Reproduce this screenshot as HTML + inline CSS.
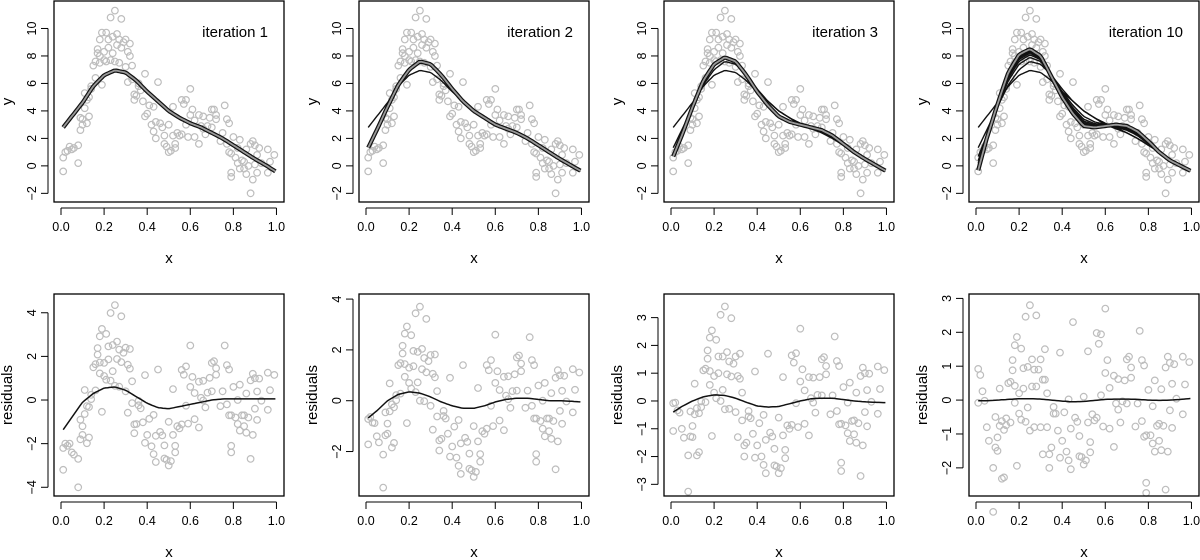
<!DOCTYPE html>
<html><head><meta charset="utf-8"><style>
body{margin:0;background:#fff;}
svg{display:block;font-family:"Liberation Sans",Arial,sans-serif;}
</style></head><body>
<svg id="c" width="1200" height="560" viewBox="0 0 1200 560"></svg>
<script>
const dataX=[0.01,0.01,0.02,0.04,0.05,0.03,0.06,0.08,0.08,0.09,0.09,0.10,0.10,0.11,0.11,0.12,0.12,0.13,0.13,0.14,0.15,0.16,0.16,0.17,0.17,0.18,0.18,0.19,0.19,0.20,0.20,0.21,0.21,0.22,0.22,0.23,0.23,0.24,0.25,0.25,0.26,0.26,0.27,0.27,0.28,0.28,0.29,0.30,0.30,0.31,0.31,0.32,0.32,0.33,0.33,0.34,0.34,0.35,0.36,0.37,0.38,0.39,0.39,0.40,0.41,0.42,0.43,0.43,0.44,0.45,0.46,0.47,0.48,0.48,0.49,0.50,0.50,0.51,0.52,0.52,0.53,0.54,0.55,0.56,0.56,0.57,0.58,0.59,0.60,0.60,0.61,0.62,0.62,0.64,0.64,0.65,0.66,0.67,0.68,0.69,0.70,0.71,0.72,0.72,0.75,0.76,0.77,0.77,0.78,0.78,0.79,0.79,0.79,0.80,0.81,0.82,0.82,0.83,0.83,0.84,0.85,0.85,0.86,0.86,0.87,0.88,0.88,0.89,0.89,0.90,0.90,0.91,0.91,0.92,0.93,0.96,0.96,0.99,0.97,0.74,0.58,0.44,0.36,0.24,0.18,0.14,0.66,0.70,0.53];
const dataY=[0.6,-0.4,1.0,1.4,1.2,1.1,1.3,1.5,0.2,2.6,3.5,3.0,3.4,5.3,4.2,4.8,3.1,3.6,5.0,5.8,7.3,7.6,6.4,8.5,8.2,9.2,7.5,9.7,5.9,7.7,8.3,9.7,7.6,9.2,8.6,10.8,7.7,9.4,11.3,7.6,9.6,8.8,9.2,7.5,10.7,8.6,9.0,9.2,7.2,8.3,6.1,8.0,8.9,7.3,6.3,4.8,5.2,5.1,6.0,5.5,4.7,3.6,6.7,3.8,4.4,3.0,2.5,4.3,2.0,6.1,3.1,2.8,1.6,2.2,1.4,3.0,1.0,1.1,2.2,4.3,1.6,2.4,2.2,4.8,2.3,4.5,4.8,2.1,5.6,3.7,4.1,2.1,3.3,3.7,1.6,2.9,2.7,2.3,2.9,3.5,4.1,4.1,3.4,3.7,2.4,4.4,3.4,1.6,3.1,1.0,0.9,-0.5,-0.8,2.1,0.6,1.3,0.2,1.9,-0.2,0.4,0.3,-0.2,1.2,-0.6,0.0,-2.0,1.6,-1.0,1.8,0.1,1.5,-0.5,0.8,1.3,0.2,-0.5,1.2,0.8,0.3,1.8,3.0,3.2,5.8,8.2,8.0,5.6,3.6,2.8,1.3];
const gridX=[0,0.05,0.1,0.15,0.2,0.25,0.3,0.35,0.4,0.45,0.5,0.55,0.6,0.65,0.7,0.75,0.8,0.85,0.9,0.95,1.0];
const fitIter1=[2.6,3.6,4.6,5.8,6.6,6.95,6.8,6.2,5.4,4.7,4.0,3.5,3.1,2.8,2.4,2.0,1.5,1.0,0.5,0.05,-0.45];
const fitIter2=[1.0,2.6,4.3,5.9,7.0,7.6,7.4,6.6,5.6,4.7,4.0,3.5,3.0,2.7,2.4,2.0,1.5,1.0,0.5,0.05,-0.4];
const fitIter3=[0.3,2.2,4.3,6.2,7.4,7.9,7.6,6.6,5.4,4.4,3.6,3.2,3.0,2.8,2.6,2.2,1.6,1.0,0.5,0.05,-0.4];
const fitIter10=[-0.9,2.0,4.5,6.8,8.1,8.5,8.0,6.5,5.0,3.8,2.9,2.8,2.9,3.0,2.9,2.5,1.8,1.0,0.4,0.0,-0.4];
const midWeights=[0.3,0.5,0.65,0.78,0.88,0.95];
const residSmooth1=[-1.5,-0.8,-0.1,0.3,0.55,0.6,0.45,0.15,-0.15,-0.35,-0.4,-0.3,-0.2,-0.1,0,0.05,0.05,0.05,0.05,0.05,0.05];
const residSmooth2=[-0.75,-0.4,0,0.25,0.35,0.3,0.15,-0.05,-0.2,-0.3,-0.3,-0.2,-0.05,0.05,0.1,0.1,0.05,0,0,-0.02,-0.05];
const residSmooth3=[-0.45,-0.2,0,0.15,0.22,0.2,0.1,-0.05,-0.18,-0.22,-0.2,-0.1,0,0.08,0.1,0.1,0.05,0,-0.03,-0.05,-0.06];
const residSmooth4=[-0.02,-0.02,0,0.02,0.04,0.04,0.03,0,-0.03,-0.05,-0.04,-0.01,0.02,0.03,0.03,0.02,0,-0.01,0,0.02,0.05];
const xTicks=[0,0.2,0.4,0.6,0.8,1.0];
const xTickLabels=["0.0","0.2","0.4","0.6","0.8","1.0"];
const yTicksTop=[-2,0,2,4,6,8,10];
const yTicksBottom=[[-4,-2,0,2,4],[-2,0,2,4],[-3,-2,-1,0,1,2,3],[-2,-1,0,1,2,3]];
const iterLabels=["iteration 1","iteration 2","iteration 3","iteration 10"];

const NS="http://www.w3.org/2000/svg";
const svg=document.getElementById('c');
function mk(tag,attrs,parent,text){const e=document.createElementNS(NS,tag);for(const k in attrs)e.setAttribute(k,attrs[k]);if(text!==undefined)e.textContent=text;(parent||svg).appendChild(e);return e;}
function interp(arr,x){if(x<=0)return arr[0];if(x>=1)return arr[arr.length-1];const i=Math.floor(x/0.05);const t=(x-gridX[i])/0.05;return arr[i]+(arr[Math.min(i+1,arr.length-1)]-arr[i])*t;}

const lefts=[54,359,664,969], W=230;
const topBox=[1,202], botBox=[294,496];
const xDom=[-0.0325,1.035];
const topDom=[-2.63,12.0];
const botDoms=[[-4.4,4.86],[-3.75,4.2],[-3.42,3.85],[-2.83,3.13]];

// iterations curves
const midCurves=midWeights.map(w=>fitIter3.map((v,i)=>v+(fitIter10[i]-v)*w));
const panelCurves=[[fitIter1],[fitIter1,fitIter2],[fitIter1,fitIter2,fitIter3],[fitIter1,fitIter2,fitIter3,...midCurves,fitIter10]];
const residFits=[fitIter1,fitIter2,fitIter3,fitIter10];
const residSmooths=[residSmooth1,residSmooth2,residSmooth3,residSmooth4];

function panel(p,row){
  const L=lefts[p], box=row===0?topBox:botBox, dom=row===0?topDom:botDoms[p];
  const sx=x=>L+(x-xDom[0])/(xDom[1]-xDom[0])*W;
  const sy=y=>box[1]-(y-dom[0])/(dom[1]-dom[0])*(box[1]-box[0]);
  const g=mk('g',{});
  
  
  // points
  const pts=mk('g',{},g);
  
  
  for(let i=0;i<dataX.length;i++){
    const yv=row===0?dataY[i]:dataY[i]-interp(residFits[p],dataX[i]);
    const c=mk('circle',{cx:sx(dataX[i]).toFixed(1),cy:sy(yv).toFixed(1),r:3.3,fill:'none',stroke:'#bdbdbd','stroke-width':1.2},pts);
    
    
  }
  // curves
  const path=arr=>gridX.map((x,i)=>(i?'L':'M')+sx(Math.max(0.01,Math.min(0.995,x))).toFixed(1)+','+sy(arr[i]).toFixed(1)).join('');
  const pathFine=arr=>{let d='';for(let k=0;k<=100;k++){const x=0.01+k*(0.985/100);d+=(k?'L':'M')+sx(x).toFixed(1)+','+sy(interp(arr,x)).toFixed(1);}return d;};
  if(row===0){
    const cs=panelCurves[p];
    cs.forEach((arr,j)=>{
      const last=j===cs.length-1;
      if(last){
        const a=mk('path',{d:pathFine(arr),fill:'none',stroke:'#111','stroke-width':4.2,'stroke-linejoin':'round'},g);
        
        
        const b=mk('path',{d:pathFine(arr),fill:'none',stroke:'#999','stroke-width':1.8,'stroke-linejoin':'round'},g);
        
        
      } else {
        const a=mk('path',{d:pathFine(arr),fill:'none',stroke:'#111','stroke-width':1.4},g);
        
        
      }
    });
    const t=mk('text',{x:L+W-16,y:37,'text-anchor':'end','font-size':15,fill:'#000'},g,iterLabels[p]);
    
    
  } else {
    const a=mk('path',{d:pathFine(residSmooths[p]),fill:'none',stroke:'#111','stroke-width':1.5},g);
    
    
  }
  // box
  const r=mk('rect',{x:L,y:box[0],width:W,height:box[1]-box[0],fill:'none',stroke:'#000','stroke-width':1.3},g);
  
  
  // x axis
  const xa=mk('g',{},g);
  
  
  mk('line',{x1:sx(0),x2:sx(1),y1:box[1]+6,y2:box[1]+6,stroke:'#000'},xa);
  xTicks.forEach((v,i)=>{
    mk('line',{x1:sx(v),x2:sx(v),y1:box[1]+6,y2:box[1]+13,stroke:'#000'},xa);
    const t=mk('text',{x:sx(v),y:box[1]+29,'text-anchor':'middle','font-size':12.5},xa,xTickLabels[i]);
    
    
  });
  const xl=mk('text',{x:L+W/2,y:box[1]+61,'text-anchor':'middle','font-size':15},g,'x');
  
  
  // y axis
  const ya=mk('g',{},g);
  
  
  const yt=row===0?yTicksTop:yTicksBottom[p];
  mk('line',{x1:L-6,x2:L-6,y1:sy(yt[0]),y2:sy(yt[yt.length-1]),stroke:'#000'},ya);
  yt.forEach(v=>{
    mk('line',{x1:L-6,x2:L-13,y1:sy(v),y2:sy(v),stroke:'#000'},ya);
    const lab=v<0?'\u2212'+Math.abs(v):String(v);
    const t=mk('text',{x:0,y:0,'text-anchor':'middle','font-size':12.5,transform:`translate(${L-18},${sy(v).toFixed(1)}) rotate(-90)`},ya,lab);
    
    
  });
  const yl=mk('text',{x:0,y:0,'text-anchor':'middle','font-size':15,transform:`translate(${L-42},${(box[0]+box[1])/2}) rotate(-90)`},g,row===0?'y':'residuals');
  
  
}
for(let p=0;p<4;p++){panel(p,0);panel(p,1);}
</script>
</body></html>
